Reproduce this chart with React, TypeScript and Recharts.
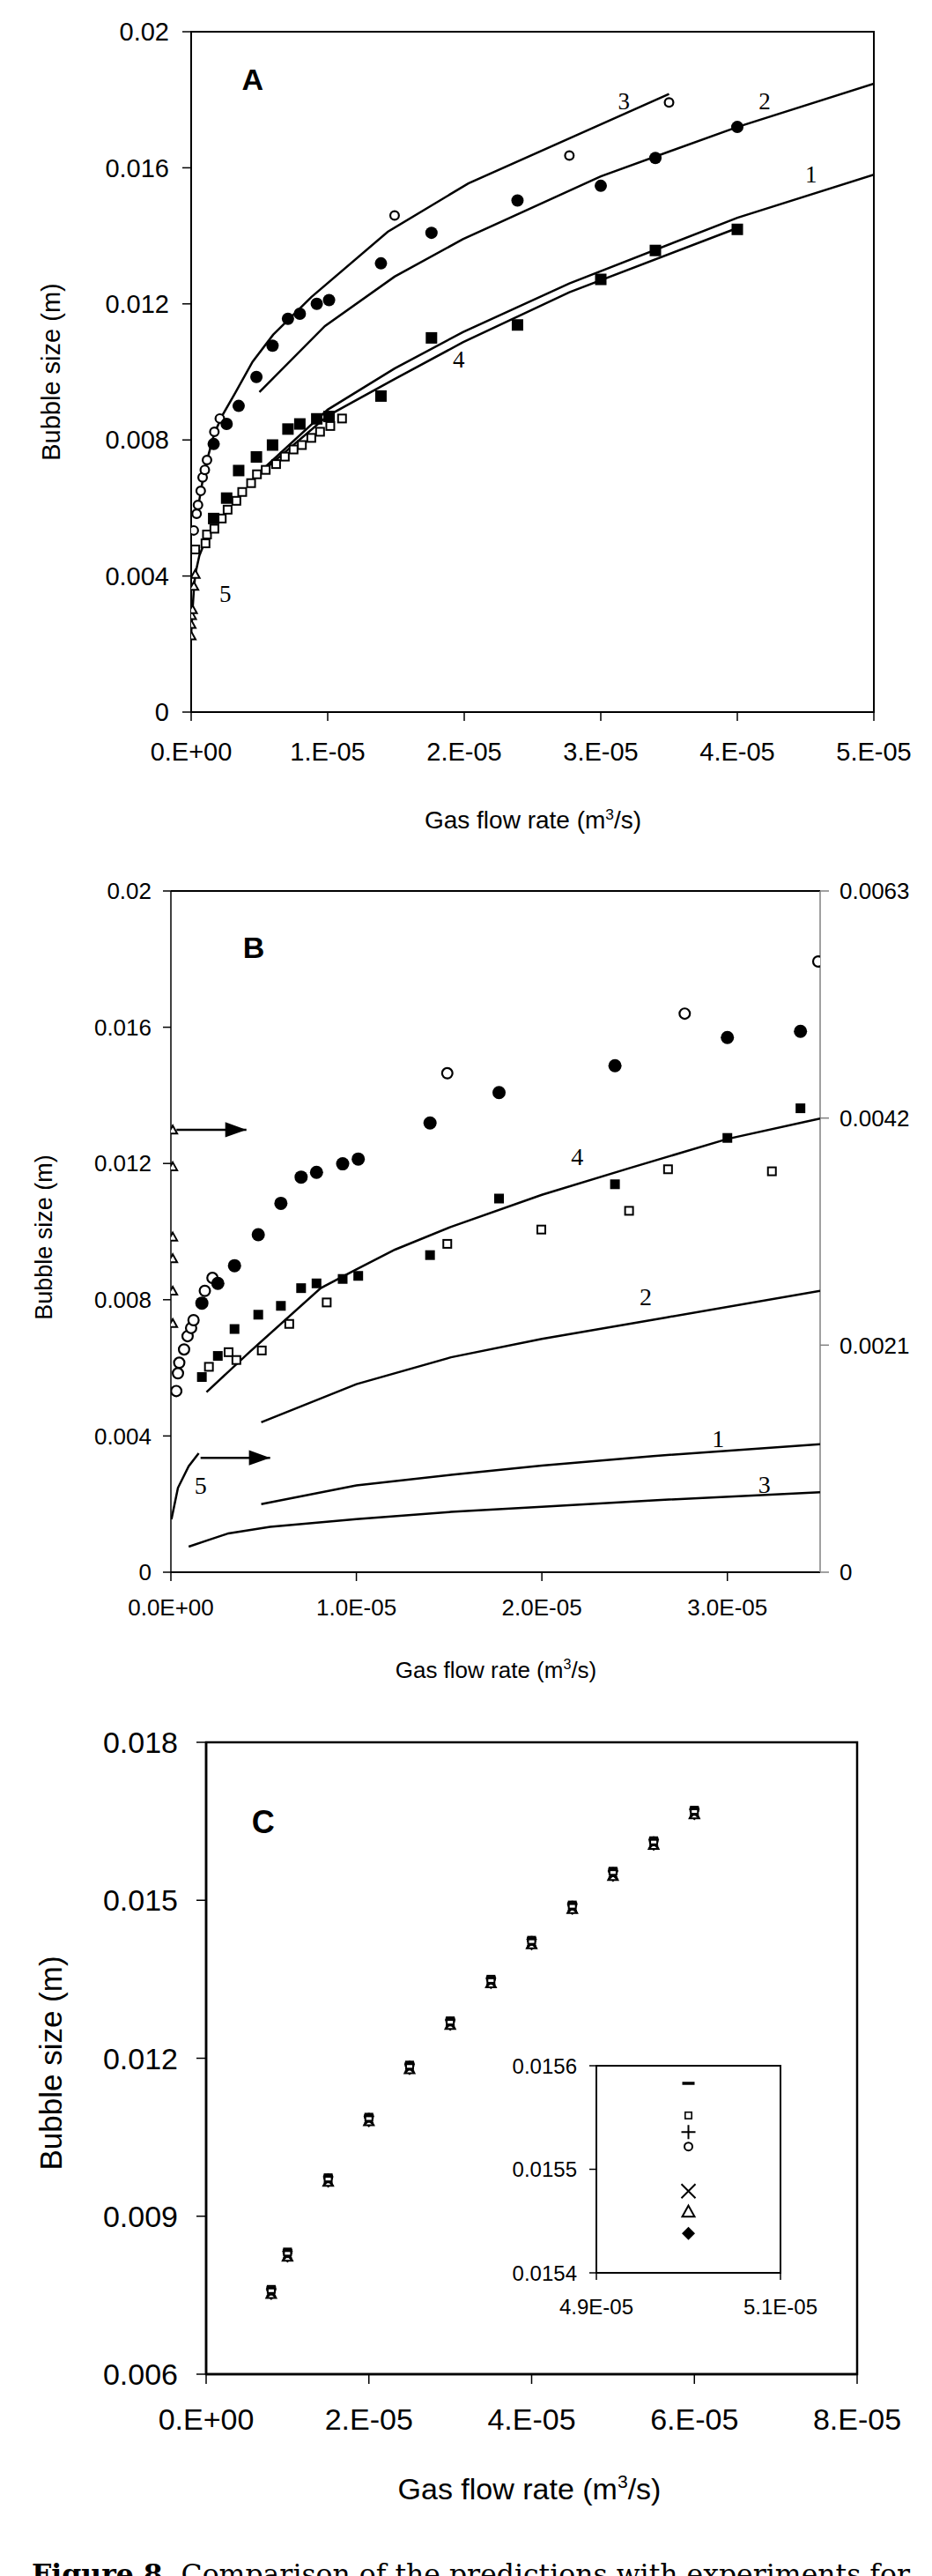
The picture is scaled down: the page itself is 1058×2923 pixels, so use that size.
import React from "react";
import {
  ScatterChart,
  Scatter,
  XAxis,
  YAxis,
  ReferenceArea,
  ReferenceLine,
} from "recharts";

const SANS = "'Liberation Sans', Arial, Helvetica, sans-serif";
const SERIF = "'Liberation Serif', 'Times New Roman', serif";
const INK = "#000";
const GREY = "#808080";

// values below: gas flow rate in 1e-6 m3/s, bubble size in mm (converted in toPts)

// ---- panel A ----
const aXTicks = [0, 1e-5, 2e-5, 3e-5, 4e-5, 5e-5];
const aXTickLabels = ["0.E+00", "1.E-05", "2.E-05", "3.E-05", "4.E-05", "5.E-05"];
const aYTicks = [0, 0.004, 0.008, 0.012, 0.016, 0.02];

const aFilledX = [1.65, 2.6, 3.48, 4.78, 5.96, 7.09, 7.96, 9.2, 10.1, 13.9, 17.6, 23.9, 30, 34, 40];
const aFilledCircleY = [7.88, 8.47, 9.0, 9.85, 10.77, 11.56, 11.71, 12.0, 12.11, 13.19, 14.09, 15.04, 15.47, 16.29, 17.2];
const aFilledSquareY = [5.69, 6.29, 7.1, 7.5, 7.85, 8.32, 8.47, 8.62, 8.69, 9.29, 11.0, 11.38, 12.72, 13.57, 14.19];
const aOpenCircleX = [0.19, 0.4, 0.5, 0.7, 0.84, 1.0, 1.16, 1.7, 2.1, 14.9, 27.7, 35.0];
const aOpenCircleY = [5.34, 5.83, 6.09, 6.5, 6.9, 7.12, 7.41, 8.24, 8.63, 14.6, 16.36, 17.92];
const aOpenSquareX = [0.3, 1.05, 1.16, 1.7, 2.24, 2.67, 3.31, 3.74, 4.39, 4.82, 5.46, 6.22, 6.86, 7.5, 8.11, 8.8, 9.44, 10.19, 11.05];
const aOpenSquareY = [4.78, 4.96, 5.22, 5.39, 5.69, 5.95, 6.21, 6.47, 6.73, 6.99, 7.12, 7.29, 7.51, 7.72, 7.85, 8.06, 8.24, 8.41, 8.63];
const aTriangleX = [0, 0, 0.03, 0.1, 0.2, 0.3];
const aTriangleY = [2.24, 2.58, 2.84, 3.01, 3.7, 4.05];

const aLine1X = [5, 10, 14.9, 19.9, 27.7, 40, 50];
const aLine1Y = [7.05, 8.89, 10.1, 11.17, 12.6, 14.53, 15.8];
const aLine2X = [5, 9.8, 14.9, 19.9, 30, 40, 50];
const aLine2Y = [9.41, 11.35, 12.8, 13.9, 15.75, 17.2, 18.47];
const aLine3X = [0.5, 0.84, 1.16, 1.7, 2.34, 3.2, 4.5, 6.0, 8.8, 14.4, 20.3, 35.0];
const aLine3Y = [6.0, 6.8, 7.4, 8.2, 8.76, 9.36, 10.3, 11.09, 12.2, 14.12, 15.54, 18.17];
const aLine4X = [5, 10, 14.9, 19.9, 27.7, 40];
const aLine4Y = [7.0, 8.71, 9.79, 10.87, 12.34, 14.23];
const aLine5X = [0, 0.1, 0.2, 0.3, 0.6, 1.0];
const aLine5Y = [2.3, 3.0, 3.6, 4.05, 4.6, 5.0];

const aTags = ["1", "2", "3", "4", "5"];
const aTagX = [45.4, 42, 31.7, 19.6, 2.5];
const aTagY = [15.8, 17.95, 17.95, 10.37, 3.46];

// ---- panel B ----
const bXTicks = [0, 1e-5, 2e-5, 3e-5];
const bXTickLabels = ["0.0E+00", "1.0E-05", "2.0E-05", "3.0E-05"];
const bYTicks = [0, 0.004, 0.008, 0.012, 0.016, 0.02];
const bY2Ticks = [0, 0.0021, 0.0042, 0.0063];

const bOpenCircleX = [0.29, 0.38, 0.45, 0.71, 0.9, 1.09, 1.22, 1.83, 2.24, 14.9, 27.7, 34.9];
const bOpenCircleY = [5.32, 5.84, 6.15, 6.54, 6.93, 7.17, 7.4, 8.26, 8.64, 14.65, 16.4, 17.93];
const bFilledX = [1.67, 2.53, 3.43, 4.71, 5.93, 7.02, 7.85, 9.26, 10.1, 13.97, 17.69, 23.94, 30.0, 33.94];
const bFilledCircleY = [7.9, 8.48, 9.0, 9.91, 10.83, 11.6, 11.74, 11.99, 12.13, 13.19, 14.08, 14.87, 15.7, 15.88];
const bFilledSquareY = [5.73, 6.35, 7.14, 7.56, 7.82, 8.34, 8.48, 8.61, 8.7, 9.31, 10.97, 11.39, 12.75, 13.62];
const bOpenSquareX = [2.05, 3.11, 3.53, 4.9, 6.38, 8.4, 14.9, 19.97, 24.7, 26.8, 32.4];
const bOpenSquareY = [6.03, 6.46, 6.23, 6.51, 7.29, 7.92, 9.64, 10.06, 10.61, 11.83, 11.77];
// right-hand axis
const bTriangleX = [0.1, 0.1, 0.1, 0.1, 0.1, 0.1];
const bTriangleY = [4.09, 3.75, 3.1, 2.9, 2.6, 2.3];
const bLine5X = [0.03, 0.38, 0.96, 1.5];
const bLine5Y = [0.49, 0.78, 0.98, 1.1];

const bLine1X = [4.87, 10, 15.1, 20, 26, 35];
const bLine1Y = [2.0, 2.55, 2.86, 3.13, 3.41, 3.76];
const bLine2X = [4.87, 10, 15.1, 20, 26.7, 35];
const bLine2Y = [4.4, 5.52, 6.31, 6.85, 7.48, 8.26];
const bLine3X = [0.96, 2, 3.1, 5.35, 10, 15.1, 20, 26, 35];
const bLine3Y = [0.75, 0.94, 1.14, 1.33, 1.56, 1.77, 1.92, 2.11, 2.35];
const bLine4X = [1.92, 4.23, 8.08, 10, 12.08, 15.1, 20, 24.7, 30, 35];
const bLine4Y = [5.29, 6.46, 8.34, 8.89, 9.47, 10.14, 11.08, 11.86, 12.72, 13.32];

const bArrowUpperX = [0.3, 4.07];
const bArrowUpperY = [12.99, 12.99];
const bArrowLowerX = [1.6, 5.35];
const bArrowLowerY = [3.36, 3.36];

const bTags = ["4", "2", "1", "3", "5"];
const bTagX = [21.9, 25.6, 29.5, 32, 1.6];
const bTagY = [12.2, 8.08, 3.93, 2.58, 2.55];

// ---- panel C ----
const cXTicks = [0, 2e-5, 4e-5, 6e-5, 8e-5];
const cXTickLabels = ["0.E+00", "2.E-05", "4.E-05", "6.E-05", "8.E-05"];
const cYTicks = [0.006, 0.009, 0.012, 0.015, 0.018];
const cFlow = [8, 10, 15, 20, 25, 30, 35, 40, 45, 50, 55, 60];
const cDash = [7.64, 8.35, 9.76, 10.91, 11.9, 12.74, 13.53, 14.27, 14.94, 15.583, 16.16, 16.74];
const cSquare = [7.61, 8.32, 9.73, 10.88, 11.87, 12.71, 13.5, 14.24, 14.91, 15.552, 16.13, 16.71];
const cPlus = [7.59, 8.3, 9.72, 10.87, 11.86, 12.7, 13.49, 14.23, 14.9, 15.536, 16.12, 16.7];
const cCircle = [7.58, 8.29, 9.71, 10.86, 11.85, 12.69, 13.48, 14.22, 14.89, 15.522, 16.11, 16.69];
const cCross = [7.54, 8.25, 9.67, 10.82, 11.81, 12.65, 13.44, 14.18, 14.85, 15.479, 16.07, 16.65];
const cTriangle = [7.52, 8.23, 9.65, 10.8, 11.79, 12.63, 13.42, 14.16, 14.83, 15.459, 16.05, 16.63];
const cDiamond = [7.5, 8.21, 9.63, 10.78, 11.77, 12.61, 13.4, 14.14, 14.81, 15.438, 16.03, 16.61];
const cInsetIndex = 9; // 5e-5 m3/s
const insetXTicks = [4.9e-5, 5.1e-5];
const insetXTickLabels = ["4.9E-05", "5.1E-05"];
const insetYTicks = [0.0154, 0.0155, 0.0156];

type Pt = { x: number; y: number; t?: string; head?: boolean };

const toPts = (xs: number[], ys: number[]): Pt[] =>
  xs.map((x, i) => ({ x: x * 1e-6, y: ys[i] * 1e-3 }));

const toTags = (tags: string[], xs: number[], ys: number[]): Pt[] =>
  tags.map((t, i) => ({ x: xs[i] * 1e-6, y: ys[i] * 1e-3, t }));

const toArrow = (xs: number[], ys: number[]): Pt[] =>
  xs.map((x, i) => ({ x: x * 1e-6, y: ys[i] * 1e-3, head: i === xs.length - 1 }));

const fmt = (ticks: number[], labels: string[]) => (v: number) => {
  const i = ticks.findIndex((t) => Math.abs(t - v) < 1e-12);
  return i >= 0 ? labels[i] : String(v);
};

type ShapeProps = { cx?: number; cy?: number; payload?: Pt };
type Kind =
  | "dot" | "ring" | "box" | "openBox" | "tri" | "diamond"
  | "plus" | "cross" | "dash" | "none" | "head";

function marker(kind: Kind, s: number, sw = 2) {
  return (p: ShapeProps) => {
    const cx = p.cx ?? 0;
    const cy = p.cy ?? 0;
    const h = s / 2;
    switch (kind) {
      case "dot":
        return <circle cx={cx} cy={cy} r={h} fill={INK} />;
      case "ring":
        return <circle cx={cx} cy={cy} r={h - sw / 2} fill="#fff" stroke={INK} strokeWidth={sw} />;
      case "box":
        return <rect x={cx - h} y={cy - h} width={s} height={s} fill={INK} />;
      case "openBox":
        return (
          <rect x={cx - h + sw / 2} y={cy - h + sw / 2} width={s - sw} height={s - sw}
            fill="#fff" stroke={INK} strokeWidth={sw} />
        );
      case "tri":
        return (
          <polygon points={`${cx},${cy - h} ${cx + h},${cy + h * 0.8} ${cx - h},${cy + h * 0.8}`}
            fill="#fff" stroke={INK} strokeWidth={sw} strokeLinejoin="miter" />
        );
      case "diamond":
        return <polygon points={`${cx},${cy - h} ${cx + h},${cy} ${cx},${cy + h} ${cx - h},${cy}`} fill={INK} />;
      case "plus":
        return <path d={`M${cx - h},${cy}H${cx + h}M${cx},${cy - h}V${cy + h}`} stroke={INK} strokeWidth={sw} />;
      case "cross":
        return (
          <path d={`M${cx - h},${cy - h}L${cx + h},${cy + h}M${cx + h},${cy - h}L${cx - h},${cy + h}`}
            stroke={INK} strokeWidth={sw} />
        );
      case "dash":
        return <rect x={cx - h} y={cy - sw / 2} width={s} height={sw} fill={INK} />;
      case "head":
        return p.payload?.head ? (
          <polygon points={`${cx},${cy} ${cx - s},${cy - s * 0.36} ${cx - s},${cy + s * 0.36}`} fill={INK} />
        ) : (
          <g />
        );
      default:
        return <g />;
    }
  };
}

function tagText(size: number, family: string, weight: string | number = "normal") {
  return (p: ShapeProps) => (
    <text x={p.cx} y={p.cy} textAnchor="middle" dominantBaseline="central"
      fontSize={size} fontFamily={family} fontWeight={weight} fill={INK}>
      {p.payload?.t}
    </text>
  );
}

const axisStyle = (fontSize: number, tickSize: number, tickMargin: number, width = 2, color = INK) => ({
  tick: { fontSize, fill: INK, fontFamily: SANS },
  tickLine: { stroke: color, strokeWidth: 1.5 },
  axisLine: { stroke: color, strokeWidth: width },
  tickSize,
  tickMargin,
  interval: 0 as const,
});

const curve = { stroke: INK, strokeWidth: 2.5, fill: "none" };
const noMark = marker("none", 0);

function Title({ x, y, size, vertical, children }: {
  x: number; y: number; size: number; vertical?: boolean; children: React.ReactNode;
}) {
  return (
    <div
      style={{
        position: "absolute",
        left: x,
        top: y,
        transform: `translate(-50%, -50%)${vertical ? " rotate(-90deg)" : ""}`,
        fontFamily: SANS,
        fontSize: size,
        lineHeight: 1,
        whiteSpace: "nowrap",
        color: INK,
      }}
    >
      {children}
    </div>
  );
}

const sup = { fontSize: "0.62em", verticalAlign: "0.6em", lineHeight: 0 } as const;

function PanelA() {
  return (
    <div style={{ position: "absolute", left: 0, top: 0 }}>
      <ScatterChart width={1058} height={870} margin={{ top: 36, right: 66, bottom: 0, left: 0 }}>
        <XAxis type="number" dataKey="x" domain={[0, 5e-5]} ticks={aXTicks} allowDataOverflow
          tickFormatter={fmt(aXTicks, aXTickLabels)} height={62} {...axisStyle(29, 10, 24)} />
        <YAxis type="number" dataKey="y" domain={[0, 0.02]} ticks={aYTicks} allowDataOverflow
          width={217} {...axisStyle(29, 10, 15)} />
        <ReferenceArea x1={0} x2={5e-5} y1={0} y2={0.02} fill="none" stroke={INK} strokeWidth={2} />
        <Scatter data={toPts(aLine1X, aLine1Y)} line={curve} shape={noMark} isAnimationActive={false} />
        <Scatter data={toPts(aLine2X, aLine2Y)} line={curve} shape={noMark} isAnimationActive={false} />
        <Scatter data={toPts(aLine3X, aLine3Y)} line={curve} shape={noMark} isAnimationActive={false} />
        <Scatter data={toPts(aLine4X, aLine4Y)} line={curve} shape={noMark} isAnimationActive={false} />
        <Scatter data={toPts(aLine5X, aLine5Y)} line={curve} shape={noMark} isAnimationActive={false} />
        <Scatter data={toPts(aOpenSquareX, aOpenSquareY)} shape={marker("openBox", 11, 2)} isAnimationActive={false} />
        <Scatter data={toPts(aTriangleX, aTriangleY)} shape={marker("tri", 10, 2)} isAnimationActive={false} />
        <Scatter data={toPts(aOpenCircleX, aOpenCircleY)} shape={marker("ring", 12, 2.2)} isAnimationActive={false} />
        <Scatter data={toPts(aFilledX, aFilledSquareY)} shape={marker("box", 13)} isAnimationActive={false} />
        <Scatter data={toPts(aFilledX, aFilledCircleY)} shape={marker("dot", 14)} isAnimationActive={false} />
        <Scatter data={toTags(aTags, aTagX, aTagY)} shape={tagText(27, SERIF)} isAnimationActive={false} />
        <Scatter data={toTags(["A"], [4.5], [18.6])} shape={tagText(34, SANS, "bold")} isAnimationActive={false} />
      </ScatterChart>
      <Title x={58} y={422} size={29} vertical>Bubble size (m)</Title>
      <Title x={605} y={931} size={28}>Gas flow rate (m<sup style={sup}>3</sup>/s)</Title>
    </div>
  );
}

function PanelB() {
  return (
    <div style={{ position: "absolute", left: 0, top: 950, width: 1058, height: 950 }}>
      <ScatterChart width={1058} height={900} margin={{ top: 61, right: 0, bottom: 0, left: 0 }}>
        <XAxis type="number" dataKey="x" domain={[0, 3.5e-5]} ticks={bXTicks} allowDataOverflow
          tickFormatter={fmt(bXTicks, bXTickLabels)} height={66} {...axisStyle(26, 10, 21)} />
        <YAxis yAxisId="left" type="number" dataKey="y" domain={[0, 0.02]} ticks={bYTicks} allowDataOverflow
          width={194} {...axisStyle(26, 9, 13, 1.5)} />
        <YAxis yAxisId="right" orientation="right" type="number" dataKey="y" domain={[0, 0.0063]}
          ticks={bY2Ticks} allowDataOverflow width={127} {...axisStyle(26, 10, 12, 1.5, GREY)} />
        <ReferenceLine yAxisId="left" y={0.02} stroke={INK} strokeWidth={2} />
        <Scatter yAxisId="left" data={toPts(bLine1X, bLine1Y)} line={curve} shape={noMark} isAnimationActive={false} />
        <Scatter yAxisId="left" data={toPts(bLine2X, bLine2Y)} line={curve} shape={noMark} isAnimationActive={false} />
        <Scatter yAxisId="left" data={toPts(bLine3X, bLine3Y)} line={curve} shape={noMark} isAnimationActive={false} />
        <Scatter yAxisId="left" data={toPts(bLine4X, bLine4Y)} line={curve} shape={noMark} isAnimationActive={false} />
        <Scatter yAxisId="right" data={toPts(bLine5X, bLine5Y)} line={curve} shape={noMark} isAnimationActive={false} />
        <Scatter yAxisId="left" data={toArrow(bArrowUpperX, bArrowUpperY)} line={curve} shape={marker("head", 24)} isAnimationActive={false} />
        <Scatter yAxisId="left" data={toArrow(bArrowLowerX, bArrowLowerY)} line={curve} shape={marker("head", 24)} isAnimationActive={false} />
        <Scatter yAxisId="right" data={toPts(bTriangleX, bTriangleY)} shape={marker("tri", 10, 2)} isAnimationActive={false} />
        <Scatter yAxisId="left" data={toPts(bOpenSquareX, bOpenSquareY)} shape={marker("openBox", 11, 2)} isAnimationActive={false} />
        <Scatter yAxisId="left" data={toPts(bOpenCircleX, bOpenCircleY)} shape={marker("ring", 14, 2.2)} isAnimationActive={false} />
        <Scatter yAxisId="left" data={toPts(bFilledX, bFilledSquareY)} shape={marker("box", 11)} isAnimationActive={false} />
        <Scatter yAxisId="left" data={toPts(bFilledX, bFilledCircleY)} shape={marker("dot", 15)} isAnimationActive={false} />
        <Scatter yAxisId="left" data={toTags(bTags, bTagX, bTagY)} shape={tagText(28, SERIF)} isAnimationActive={false} />
        <Scatter yAxisId="left" data={toTags(["B"], [4.46], [18.34])} shape={tagText(34, SANS, "bold")} isAnimationActive={false} />
      </ScatterChart>
      <Title x={50} y={454} size={27} vertical>Bubble size (m)</Title>
      <Title x={563} y={945} size={26}>Gas flow rate (m<sup style={sup}>3</sup>/s)</Title>
    </div>
  );
}

function PanelC() {
  const at = (ys: number[]) => toPts(cFlow, ys);
  const one = (ys: number[]) => toPts([cFlow[cInsetIndex]], [ys[cInsetIndex]]);
  return (
    <div style={{ position: "absolute", left: 0, top: 1900, width: 1058, height: 1023 }}>
      <ScatterChart width={1058} height={900} margin={{ top: 77, right: 85, bottom: 0, left: 0 }}>
        <XAxis type="number" dataKey="x" domain={[0, 8e-5]} ticks={cXTicks} allowDataOverflow
          tickFormatter={fmt(cXTicks, cXTickLabels)} height={106} {...axisStyle(34, 11, 28, 2.5)} />
        <YAxis type="number" dataKey="y" domain={[0.006, 0.018]} ticks={cYTicks} allowDataOverflow
          width={234} {...axisStyle(34, 11, 21, 2.5)} />
        <ReferenceArea x1={0} x2={8e-5} y1={0.006} y2={0.018} fill="none" stroke={INK} strokeWidth={2.5} />
        <Scatter data={at(cDiamond)} shape={marker("diamond", 11)} isAnimationActive={false} />
        <Scatter data={at(cTriangle)} shape={marker("tri", 11, 2)} isAnimationActive={false} />
        <Scatter data={at(cCross)} shape={marker("cross", 11, 2.2)} isAnimationActive={false} />
        <Scatter data={at(cCircle)} shape={marker("ring", 10, 2)} isAnimationActive={false} />
        <Scatter data={at(cPlus)} shape={marker("plus", 11, 2.2)} isAnimationActive={false} />
        <Scatter data={at(cSquare)} shape={marker("openBox", 10, 2)} isAnimationActive={false} />
        <Scatter data={at(cDash)} shape={marker("dash", 11, 3.5)} isAnimationActive={false} />
        <Scatter data={toTags(["C"], [7.0], [16.49])} shape={tagText(36, SANS, "bold")} isAnimationActive={false} />
      </ScatterChart>
      <div style={{ position: "absolute", left: 0, top: 400 }}>
        <ScatterChart width={1058} height={360} margin={{ top: 44, right: 172, bottom: 0, left: 0 }}>
          <XAxis type="number" dataKey="x" domain={[4.9e-5, 5.1e-5]} ticks={insetXTicks} allowDataOverflow
            tickFormatter={fmt(insetXTicks, insetXTickLabels)} height={81} {...axisStyle(24, 8, 22)} />
          <YAxis type="number" dataKey="y" domain={[0.0154, 0.0156]} ticks={insetYTicks} allowDataOverflow
            width={677} {...axisStyle(24, 8, 14)} />
          <ReferenceArea x1={4.9e-5} x2={5.1e-5} y1={0.0154} y2={0.0156} fill="#fff" stroke={INK} strokeWidth={2} />
          <Scatter data={one(cDash)} shape={marker("dash", 14, 3.5)} isAnimationActive={false} />
          <Scatter data={one(cSquare)} shape={marker("openBox", 9, 1.6)} isAnimationActive={false} />
          <Scatter data={one(cPlus)} shape={marker("plus", 16, 2)} isAnimationActive={false} />
          <Scatter data={one(cCircle)} shape={marker("ring", 11, 2)} isAnimationActive={false} />
          <Scatter data={one(cCross)} shape={marker("cross", 16, 2)} isAnimationActive={false} />
          <Scatter data={one(cTriangle)} shape={marker("tri", 14, 2)} isAnimationActive={false} />
          <Scatter data={one(cDiamond)} shape={marker("diamond", 15)} isAnimationActive={false} />
        </ScatterChart>
      </div>
      <Title x={57} y={441} size={35} vertical>Bubble size (m)</Title>
      <Title x={601} y={924} size={34}>Gas flow rate (m<sup style={sup}>3</sup>/s)</Title>
    </div>
  );
}

export default function App() {
  return (
    <div
      style={{
        position: "absolute",
        left: 0,
        top: 0,
        width: 1058,
        height: 2923,
        background: "#fff",
        overflow: "hidden",
      }}
    >
      <PanelA />
      <PanelB />
      <PanelC />
      <svg width={1058} height={60} style={{ position: "absolute", left: 0, top: 2880 }}>
        <text x={36} y={52} textLength={997} lengthAdjust="spacingAndGlyphs"
          fontFamily="'DejaVu Serif', 'Liberation Serif', serif" fontSize={32} fill={INK}>
          <tspan fontWeight="bold">Figure 8.</tspan> Comparison of the predictions with experiments for
        </text>
      </svg>
    </div>
  );
}
